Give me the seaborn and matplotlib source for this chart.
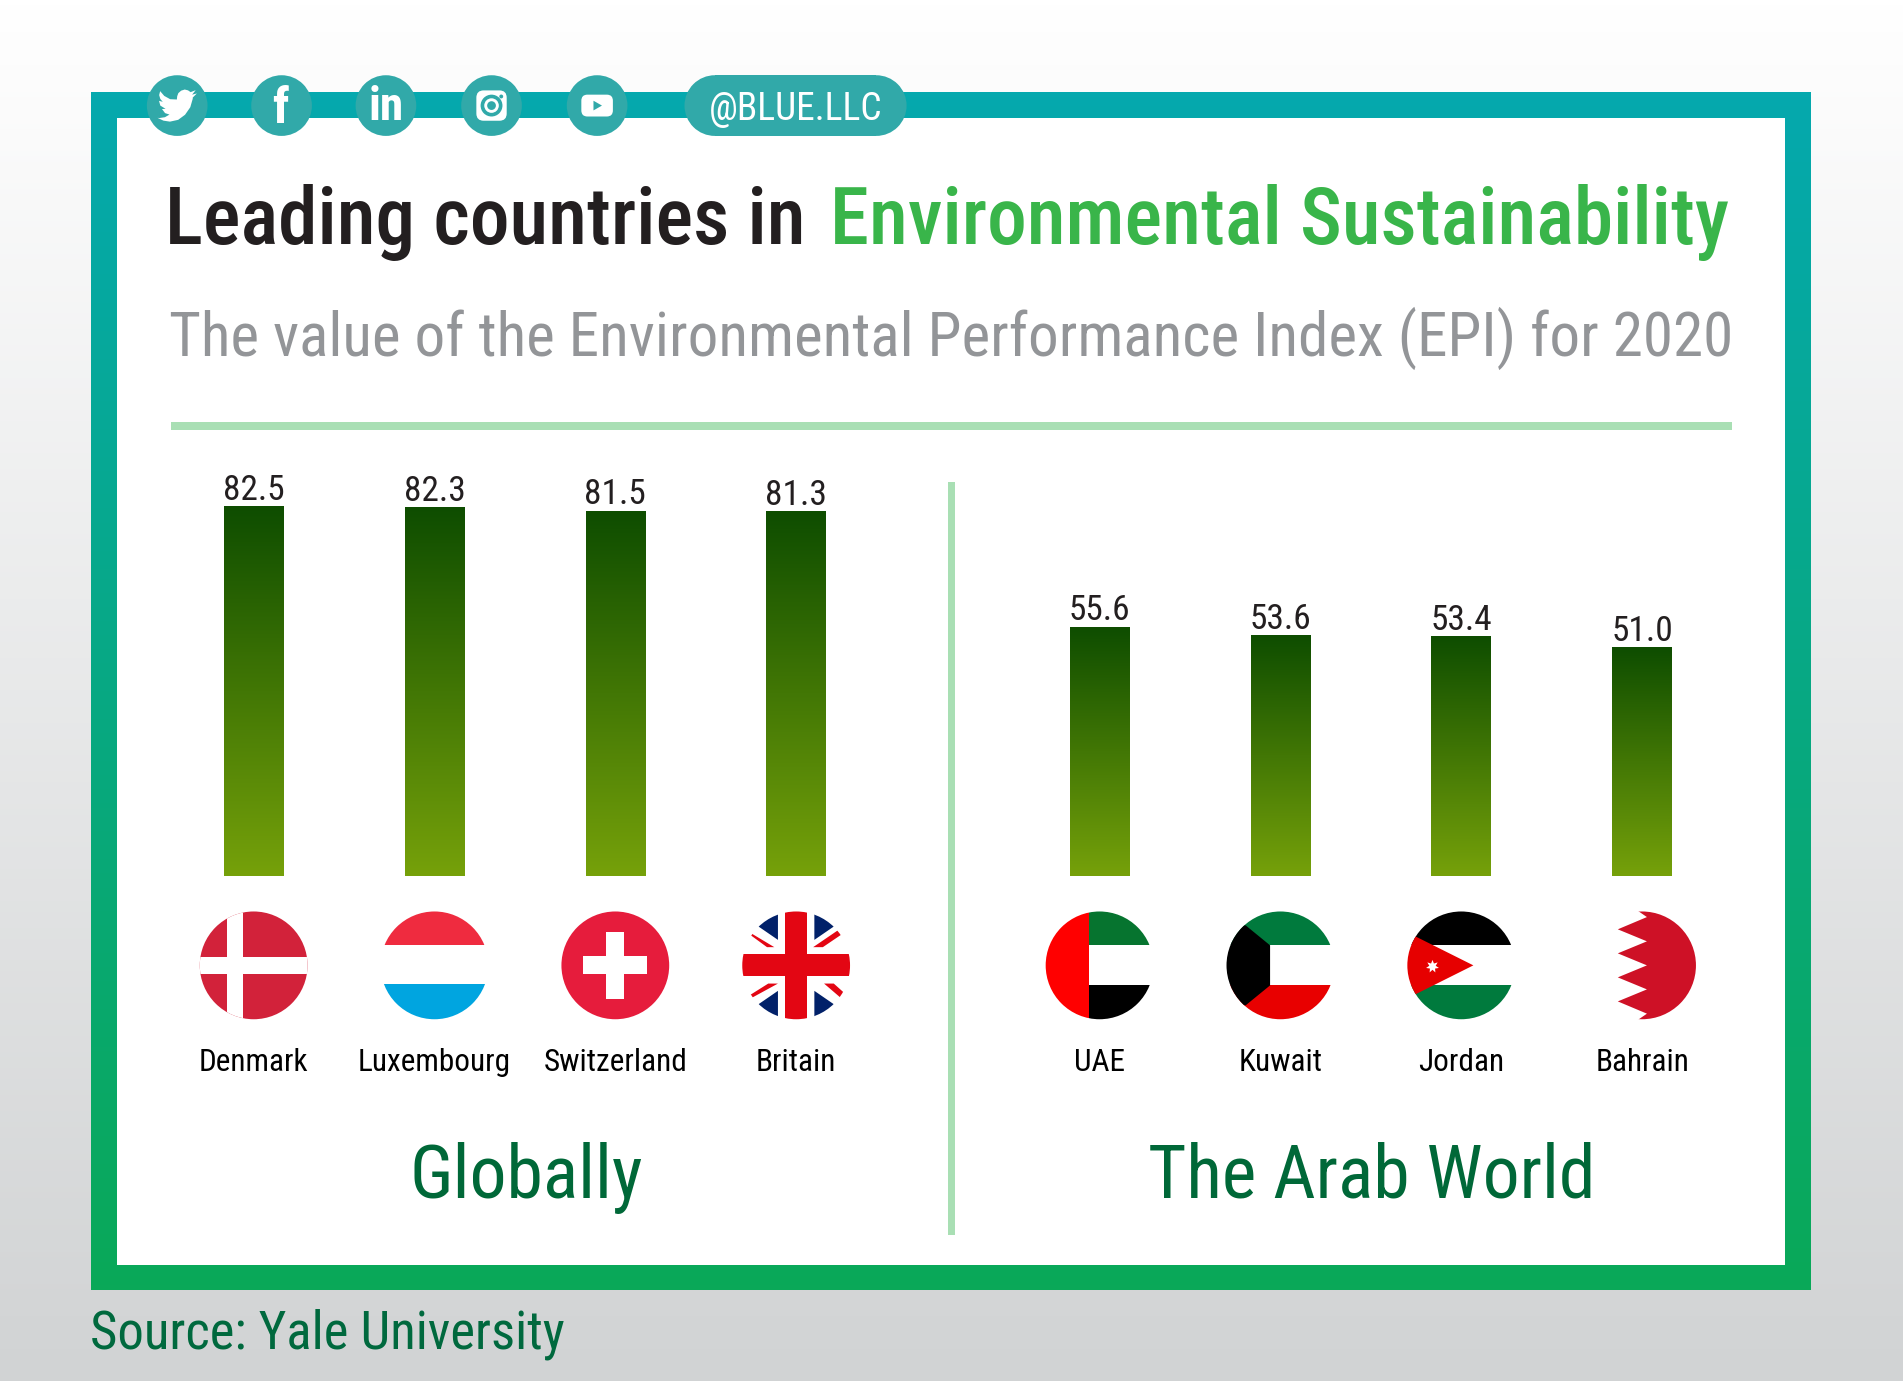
import numpy as np
import pandas as pd
import seaborn as sns
import matplotlib.pyplot as plt
from matplotlib.colors import LinearSegmentedColormap
from matplotlib.patches import Circle, Rectangle, Polygon, FancyBboxPatch

countries_global = ['Denmark', 'Luxembourg', 'Switzerland', 'Britain']
values_global = [82.5, 82.3, 81.5, 81.3]
countries_arab = ['UAE', 'Kuwait', 'Jordan', 'Bahrain']
values_arab = [55.6, 53.6, 53.4, 51.0]
group_names = ['Globally', 'The Arab World']

sns.set_theme(style='white')
plt.rcParams['font.family'] = ['Roboto Condensed', 'DejaVu Sans']

W, H = 1568, 1138  # layout units, same ratio as the output

fig = plt.figure(figsize=(19.03, 13.81), dpi=100)
deco = fig.add_axes([0, 0, 1, 1], zorder=0)
deco.axis('off')

ramp = np.linspace(0, 1, 256).reshape(-1, 1)
bg_cmap = LinearSegmentedColormap.from_list('bg', ['#ffffff', '#d1d3d4'])
frame_cmap = LinearSegmentedColormap.from_list('fr', ['#05a9ae', '#0aa858'])
bar_cmap = LinearSegmentedColormap.from_list('bar', ['#0e4d00', '#76a10a'])

deco.imshow(ramp, cmap=bg_cmap, aspect='auto', extent=(0, W, H, 0), zorder=0)
deco.imshow(ramp, cmap=frame_cmap, aspect='auto', extent=(75, 1492, 1063, 76), zorder=1)
deco.add_patch(Rectangle((96, 97), 1375, 945, fc='white', ec='none', zorder=2))
deco.set_xlim(0, W)
deco.set_ylim(H, 0)

# separators
deco.add_patch(Rectangle((141, 347.5), 1286, 7, fc='#a9dfb4', ec='none', zorder=3))
deco.add_patch(Rectangle((781, 397), 6, 621, fc='#a9dfb4', ec='none', zorder=3))

# title
deco.text(136, 201, 'Leading countries in', color='#231f20', fontsize=57, fontweight=500,
          ha='left', va='baseline', zorder=5)
deco.text(684, 201, 'Environmental Sustainability', color='#39b54a', fontsize=57, fontweight=500,
          ha='left', va='baseline', zorder=5)
deco.text(139, 293, 'The value of the Environmental Performance Index (EPI) for 2020',
          color='#939598', fontsize=44, ha='left', va='baseline', zorder=5)

deco.text(74, 1111, 'Source: Yale University', color='#00693e', fontsize=38,
          ha='left', va='baseline', zorder=5)


def bar_panel(names, values, left):
    ax = fig.add_axes([left / W, 1 - 722 / H, 596 / W, 369 / H], zorder=1)
    ax.patch.set_alpha(0)
    df = pd.DataFrame({'country': names, 'epi': values})
    sns.barplot(data=df, x='country', y='epi', width=0.329, color='#0e4d00', ax=ax)
    bars = ax.containers[0]
    for b in bars:
        ax.imshow(ramp, cmap=bar_cmap, aspect='auto', zorder=2,
                  extent=(b.get_x(), b.get_x() + b.get_width(), 0, b.get_height()))
        b.set_facecolor('none')
    ax.bar_label(bars, fmt='%.1f', padding=0, fontsize=25.5, color='#231f20')
    ax.set_xlim(-0.5, 3.5)
    ax.set_ylim(0, 100)
    ax.set_xlabel('')
    ax.set_ylabel('')
    ax.set_yticks([])
    ax.tick_params(axis='x', length=0, pad=124, labelsize=22.5, labelcolor='black')
    sns.despine(ax=ax, left=True, bottom=True)
    return ax


ax_g = bar_panel(countries_global, values_global, 134.5)
ax_a = bar_panel(countries_arab, values_arab, 831.5)

deco.text(434, 987, group_names[0], color='#006838', fontsize=53, ha='center', va='baseline', zorder=5)
deco.text(1130, 987, group_names[1], color='#006838', fontsize=53, ha='center', va='baseline', zorder=5)


# flags ------------------------------------------------------------------
R = 44.4
CY = 795.5


def rect(cx, clip, x0, y0, x1, y1, color):
    p = Rectangle((cx + x0, CY + y0), x1 - x0, y1 - y0, fc=color, ec='none', zorder=4)
    deco.add_patch(p)
    p.set_clip_path(clip)


def poly(cx, clip, pts, color):
    p = Polygon([(cx + x, CY + y) for x, y in pts], closed=True, fc=color, ec='none', zorder=4)
    deco.add_patch(p)
    p.set_clip_path(clip)


def make_clip(cx):
    return Circle((cx, CY), R, transform=deco.transData)


def denmark(cx):
    c = make_clip(cx)
    rect(cx, c, -50, -50, 50, 50, '#d2223a')
    rect(cx, c, -22, -50, -8.5, 50, 'white')
    rect(cx, c, -50, -7, 50, 7, 'white')


def luxembourg(cx):
    c = make_clip(cx)
    rect(cx, c, -50, -50, 50, -16.5, '#ef2b3f')
    rect(cx, c, -50, 15.5, 50, 50, '#00a5e0')


def switzerland(cx):
    c = make_clip(cx)
    rect(cx, c, -50, -50, 50, 50, '#e61c3c')
    rect(cx, c, -7.4, -27.5, 7.4, 27.5, 'white')
    rect(cx, c, -26.5, -7.4, 26.5, 7.4, 'white')


def britain(cx):
    c = make_clip(cx)
    navy = '#012169'
    red = '#e30613'
    poly(cx, c, [(-15, -50), (-15, -21), (-31, -32), (-40, -50)], navy)
    poly(cx, c, [(15, -50), (15, -21), (31, -32), (40, -50)], navy)
    poly(cx, c, [(-15, 50), (-15, 21), (-31, 32), (-40, 50)], navy)
    poly(cx, c, [(15, 50), (15, 21), (31, 32), (40, 50)], navy)
    poly(cx, c, [(-50, -34), (-38, -27), (-18, -15), (-24, -15)], red)
    poly(cx, c, [(50, -34), (36, -30), (14, -15), (22, -15)], red)
    poly(cx, c, [(-50, 32), (-37, 27), (-15, 15), (-23, 15)], red)
    poly(cx, c, [(50, 32), (37, 27), (23, 15), (31, 15)], red)
    rect(cx, c, -8.8, -50, 8.8, 50, red)
    rect(cx, c, -50, -9, 50, 9, red)


def uae(cx):
    c = make_clip(cx)
    rect(cx, c, -9, -50, 50, -16.5, '#06742f')
    rect(cx, c, -9, 16.5, 50, 50, 'black')
    rect(cx, c, -50, -50, -9, 50, '#ff0000')


def kuwait(cx):
    c = make_clip(cx)
    rect(cx, c, -50, -50, 50, -16.5, '#007a3d')
    rect(cx, c, -50, 16.5, 50, 50, '#e80000')
    poly(cx, c, [(-50, -33), (-28.7, -33), (-8.5, -16.5), (-8.5, 16.5), (-28.7, 33), (-50, 33)], 'black')


def jordan(cx):
    c = make_clip(cx)
    rect(cx, c, -50, -50, 50, -16.5, 'black')
    rect(cx, c, -50, 16.5, 50, 50, '#007a3d')
    poly(cx, c, [(-50, -30), (10, 0), (-50, 30)], '#e60000')
    deco.scatter([cx - 24], [CY + 0.5], marker=(7, 1, 0), s=90, color='white', linewidths=0, zorder=5)


def bahrain(cx):
    c = make_clip(cx)
    poly(cx, c, [(-5, -46), (4, -39.8), (-20, -29.7), (4, -19.8), (-20, -9.9), (4, 0),
                 (-20, 9.9), (4, 19.8), (-20, 29.7), (4, 39.8), (-5, 46), (50, 46), (50, -46)], '#ce1126')


def bar_centers(ax):
    out = []
    for b in ax.containers[0]:
        p = ax.transData.transform((b.get_x() + b.get_width() / 2, 0))
        out.append(deco.transData.inverted().transform(p)[0])
    return out


for cx, draw in zip(bar_centers(ax_g), [denmark, luxembourg, switzerland, britain]):
    draw(cx)
for cx, draw in zip(bar_centers(ax_a), [uae, kuwait, jordan, bahrain]):
    draw(cx)

# social strip -----------------------------------------------------------
TEAL = '#31a9a9'
ICON_Y = 87
icon_x = [146, 232, 318, 405, 492]
for x in icon_x:
    deco.add_patch(Circle((x, ICON_Y), 25, fc=TEAL, ec='none', zorder=6))
deco.add_patch(Rectangle((589, 62), 133, 50, fc=TEAL, ec='none', zorder=6))
deco.add_patch(Circle((589, 87), 25, fc=TEAL, ec='none', zorder=6))
deco.add_patch(Circle((722, 87), 25, fc=TEAL, ec='none', zorder=6))
deco.text(655.5, 99, '@BLUE.LLC', color='white', fontsize=27, ha='center', va='baseline', zorder=7)

# twitter bird
bird = [(24, 4.6), (21.1, 5.35), (23.3, 2.6), (20.2, 3.8), (18.6, 2.7), (16.6, 2.2), (14.4, 2.9), (12.7, 4.4),
        (12, 6.3), (11.8, 8.3), (7.7, 8.1), (4.1, 6.1), (1.6, 3.2), (1, 5.6), (1.7, 8), (3.2, 9.7), (0.9, 9.1),
        (1.7, 12), (4.9, 14), (2.7, 14.1), (4.6, 16.6), (7.3, 17.5), (4.5, 19.1), (1.2, 19.6), (0, 19.5),
        (3.6, 21.2), (7.6, 21.8), (12.6, 20.7), (16.8, 17.6), (20, 13), (21.5, 7.8), (21.5, 7.1)]
bird_pts = [(146 + (x - 12) * 1.35, ICON_Y + (y - 12) * 1.35) for x, y in bird]
deco.add_patch(Polygon(bird_pts, closed=True, fc='white', ec='none', zorder=7))

deco.text(231, 101, 'f', color='white', fontsize=36, fontweight='bold', ha='center', va='baseline', zorder=7)
deco.text(318, 99, 'in', color='white', fontsize=34, fontweight='bold', ha='center', va='baseline', zorder=7)

# instagram
deco.add_patch(FancyBboxPatch((392.5, 74.5), 25, 25, boxstyle='round,pad=0,rounding_size=6',
                              fc='white', ec='none', zorder=7))
deco.add_patch(Circle((405, 87), 9, fc=TEAL, ec='none', zorder=8))
deco.add_patch(Circle((405, 87), 6, fc='white', ec='none', zorder=9))
deco.add_patch(Circle((405, 87), 3.6, fc=TEAL, ec='none', zorder=10))
deco.add_patch(Circle((413, 79.5), 1.6, fc=TEAL, ec='none', zorder=8))

# youtube
deco.add_patch(FancyBboxPatch((479, 78), 26, 18, boxstyle='round,pad=0,rounding_size=5',
                              fc='white', ec='none', zorder=7))
deco.add_patch(Polygon([(489, 83), (489, 91), (496, 87)], closed=True, fc=TEAL, ec='none', zorder=8))

fig.savefig('out.png', dpi=100)
